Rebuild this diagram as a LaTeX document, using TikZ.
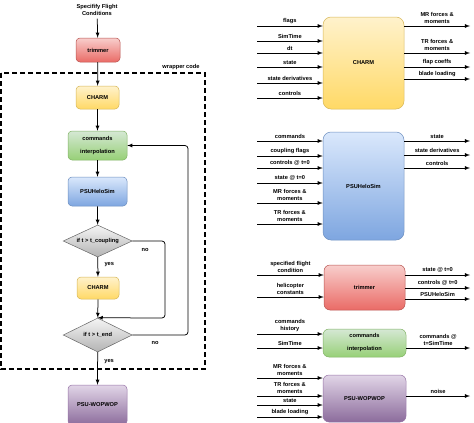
\documentclass[tikz,border=0pt]{standalone}
\usepackage{fontspec}
\setmainfont{Liberation Sans}
\usetikzlibrary{shapes.geometric}
\definecolor{redT}{HTML}{F8CECC}\definecolor{redB}{HTML}{EA6B66}\definecolor{redD}{HTML}{B85450}
\definecolor{yelT}{HTML}{FFF2CC}\definecolor{yelB}{HTML}{FFD966}\definecolor{yelD}{HTML}{D6B656}
\definecolor{grnT}{HTML}{D5E8D4}\definecolor{grnB}{HTML}{97D077}\definecolor{grnD}{HTML}{82B366}
\definecolor{bluT}{HTML}{DAE8FC}\definecolor{bluB}{HTML}{7EA6E0}\definecolor{bluD}{HTML}{6C8EBF}
\definecolor{purT}{HTML}{E1D5E7}\definecolor{purB}{HTML}{8C6C9C}\definecolor{purD}{HTML}{9673A6}
\definecolor{gryT}{HTML}{F5F5F5}\definecolor{gryB}{HTML}{B3B3B3}\definecolor{gryD}{HTML}{666666}

\begin{document}
\begin{tikzpicture}[>=latex, x=1pt, y=-1pt, font=\fontsize{5.7}{7}\selectfont\bfseries,
    blk/.style={draw, rounded corners=4pt, line width=0.5pt, inner sep=1pt, align=center},
    redblk/.style={blk, draw=redD, top color=redT, bottom color=redB},
    yelblk/.style={blk, draw=yelD, top color=yelT, bottom color=yelB},
    grnblk/.style={blk, draw=grnD, top color=grnT, bottom color=grnB},
    blublk/.style={blk, draw=bluD, top color=bluT, bottom color=bluB},
    purblk/.style={blk, draw=purD, top color=purT, bottom color=purB},
    dia/.style={diamond, draw=gryD, line width=0.5pt, top color=gryT, bottom color=gryB, inner sep=0pt, shape aspect=2.1},
    line/.style={->, line width=0.75pt},
    lbl/.style={above=1pt, inner sep=1pt, align=center}]
  \useasboundingbox (0,0) rectangle (474,423);
  % flow of the wrapper
  \node[align=center] (spec) at (97,9.5) {Specifify Flight\\Conditions};
  \node[redblk, minimum width=44, minimum height=24] (trim) at (98,50) {trimmer};
  \draw[dashed, line width=1.3pt, dash pattern=on 5pt off 3pt] (1,73) rectangle (205,369);
  \node (wrap) at (181,67) {wrapper code};
  \node[yelblk, minimum width=43, minimum height=23] (charmA) at (97.5,97.5) {CHARM};
  \node[grnblk, minimum width=59, minimum height=29] (cmdA) at (97.5,145.5) {commands\\[5.5pt]interpolation};
  \node[blublk, minimum width=59, minimum height=29] (heloA) at (97.5,191.5) {PSUHeloSim};
  \node[dia, minimum width=69, minimum height=32] (cpl) at (97.7,241) {if t > t\_coupling};
  \node[yelblk, minimum width=42, minimum height=22] (charmB) at (98,288) {CHARM};
  \node[dia, minimum width=69, minimum height=34] (tend) at (97.7,335) {if t > t\_end};
  \node[purblk, minimum width=59, minimum height=40] (wopA) at (97.5,405) {PSU-WOPWOP};
  \draw[line] (spec) -- (trim);
  \draw[line] (trim) -- (charmA);
  \draw[line] (charmA) -- (cmdA);
  \draw[line] (cmdA) -- (heloA);
  \draw[line] (heloA) -- (cpl);
  \draw[line] (cpl) -- node[pos=0.4, right=3pt] (yesA) {yes} (charmB);
  \draw[line] (charmB) -- (tend);
  \draw[line] (tend) -- node[pos=0.3, right=3pt] (yesB) {yes} (wopA);
  \coordinate (loopA) at (165,318);
  \coordinate (loopB) at (188,335);
  \draw[line, rounded corners=3pt] (cpl.east) -| (loopA) -- (tend.north);
  \draw[line, rounded corners=3pt] (tend.east) -- (loopB) |- (cmdA.east);
  \node (noA) at (145,250) {no};
  \node (noB) at (155,343) {no};
  % CHARM
  \node[yelblk, rounded corners=8pt, minimum width=81, minimum height=92] (charmR) at (363.5,63) {CHARM};
  \draw[line] (257,26) coordinate (cIn1) -- node[lbl] {flags} (charmR.west |- cIn1);
  \draw[line] (257,41) coordinate (cIn2) -- node[lbl] {SimTime} (charmR.west |- cIn2);
  \draw[line] (257,53) coordinate (cIn3) -- node[lbl] {dt} (charmR.west |- cIn3);
  \draw[line] (257,67) coordinate (cIn4) -- node[lbl] {state} (charmR.west |- cIn4);
  \draw[line] (257,83) coordinate (cIn5) -- node[lbl] {state derivatives} (charmR.west |- cIn5);
  \draw[line] (257,98) coordinate (cIn6) -- node[lbl] {controls} (charmR.west |- cIn6);
  \coordinate (cOut1) at (470,26); \draw[line] (charmR.east |- cOut1) -- node[lbl] {MR forces \&\\moments} (cOut1);
  \coordinate (cOut2) at (470,53); \draw[line] (charmR.east |- cOut2) -- node[lbl] {TR forces \&\\moments} (cOut2);
  \coordinate (cOut3) at (470,67); \draw[line] (charmR.east |- cOut3) -- node[lbl] {flap coeffs} (cOut3);
  \coordinate (cOut4) at (470,79); \draw[line] (charmR.east |- cOut4) -- node[lbl] {blade loading} (cOut4);
  % PSUHeloSim
  \node[blublk, rounded corners=8pt, minimum width=81, minimum height=108] (heloR) at (363.5,186) {PSUHeloSim};
  \draw[line] (257,141) coordinate (hIn1) -- node[lbl] {commands} (heloR.west |- hIn1);
  \draw[line] (257,156) coordinate (hIn2) -- node[lbl] {coupling flags} (heloR.west |- hIn2);
  \draw[line] (257,168) coordinate (hIn3) -- node[lbl] {controls @ t=0} (heloR.west |- hIn3);
  \draw[line] (257,183) coordinate (hIn4) -- node[lbl] {state @ t=0} (heloR.west |- hIn4);
  \draw[line] (257,203) coordinate (hIn5) -- node[lbl] {MR forces \&\\moments} (heloR.west |- hIn5);
  \draw[line] (257,224) coordinate (hIn6) -- node[lbl] {TR forces \&\\moments} (heloR.west |- hIn6);
  \coordinate (hOut1) at (470,141); \draw[line] (heloR.east |- hOut1) -- node[lbl] {state} (hOut1);
  \coordinate (hOut2) at (470,155); \draw[line] (heloR.east |- hOut2) -- node[lbl] {state derivatives} (hOut2);
  \coordinate (hOut3) at (470,168); \draw[line] (heloR.east |- hOut3) -- node[lbl] {controls} (hOut3);
  % trimmer
  \node[redblk, rounded corners=6pt, minimum width=81, minimum height=45] (trimR) at (364.5,287.5) {trimmer};
  \draw[line] (257,275) coordinate (tIn1) -- node[lbl] {specified flight\\condition} (trimR.west |- tIn1);
  \draw[line] (257,297) coordinate (tIn2) -- node[lbl] {helicopter\\constants} (trimR.west |- tIn2);
  \coordinate (tOut1) at (470,275); \draw[line] (trimR.east |- tOut1) -- node[lbl] {state @ t=0} (tOut1);
  \coordinate (tOut2) at (470,288); \draw[line] (trimR.east |- tOut2) -- node[lbl] {controls @ t=0} (tOut2);
  \coordinate (tOut3) at (470,299); \draw[line] (trimR.east |- tOut3) -- node[lbl] {PSUHeloSim} (tOut3);
  % commands interpolation
  \node[grnblk, rounded corners=6pt, minimum width=83, minimum height=28] (cmdR) at (364.5,343) {commands\\[6pt]interpolation};
  \draw[line] (257,334) coordinate (iIn1) -- node[lbl] {commands\\history} (cmdR.west |- iIn1);
  \draw[line] (257,348) coordinate (iIn2) -- node[lbl] {SimTime} (cmdR.west |- iIn2);
  \coordinate (iOut1) at (470,348); \draw[line] (cmdR.east |- iOut1) -- node[lbl] {commands @\\t=SimTime} (iOut1);
  % PSU-WOPWOP
  \node[purblk, rounded corners=6pt, minimum width=83, minimum height=47] (wopR) at (364.5,398.5) {PSU-WOPWOP};
  \draw[line] (257,378) coordinate (wIn1) -- node[lbl] {MR forces \&\\moments} (wopR.west |- wIn1);
  \draw[line] (257,396) coordinate (wIn2) -- node[lbl] {TR forces \&\\moments} (wopR.west |- wIn2);
  \draw[line] (257,405) coordinate (wIn3) -- node[lbl] {state} (wopR.west |- wIn3);
  \draw[line] (257,417) coordinate (wIn4) -- node[lbl] {blade loading} (wopR.west |- wIn4);
  \coordinate (wOut1) at (470,396); \draw[line] (wopR.east |- wOut1) -- node[lbl] {noise} (wOut1);
\end{tikzpicture}
\end{document}
